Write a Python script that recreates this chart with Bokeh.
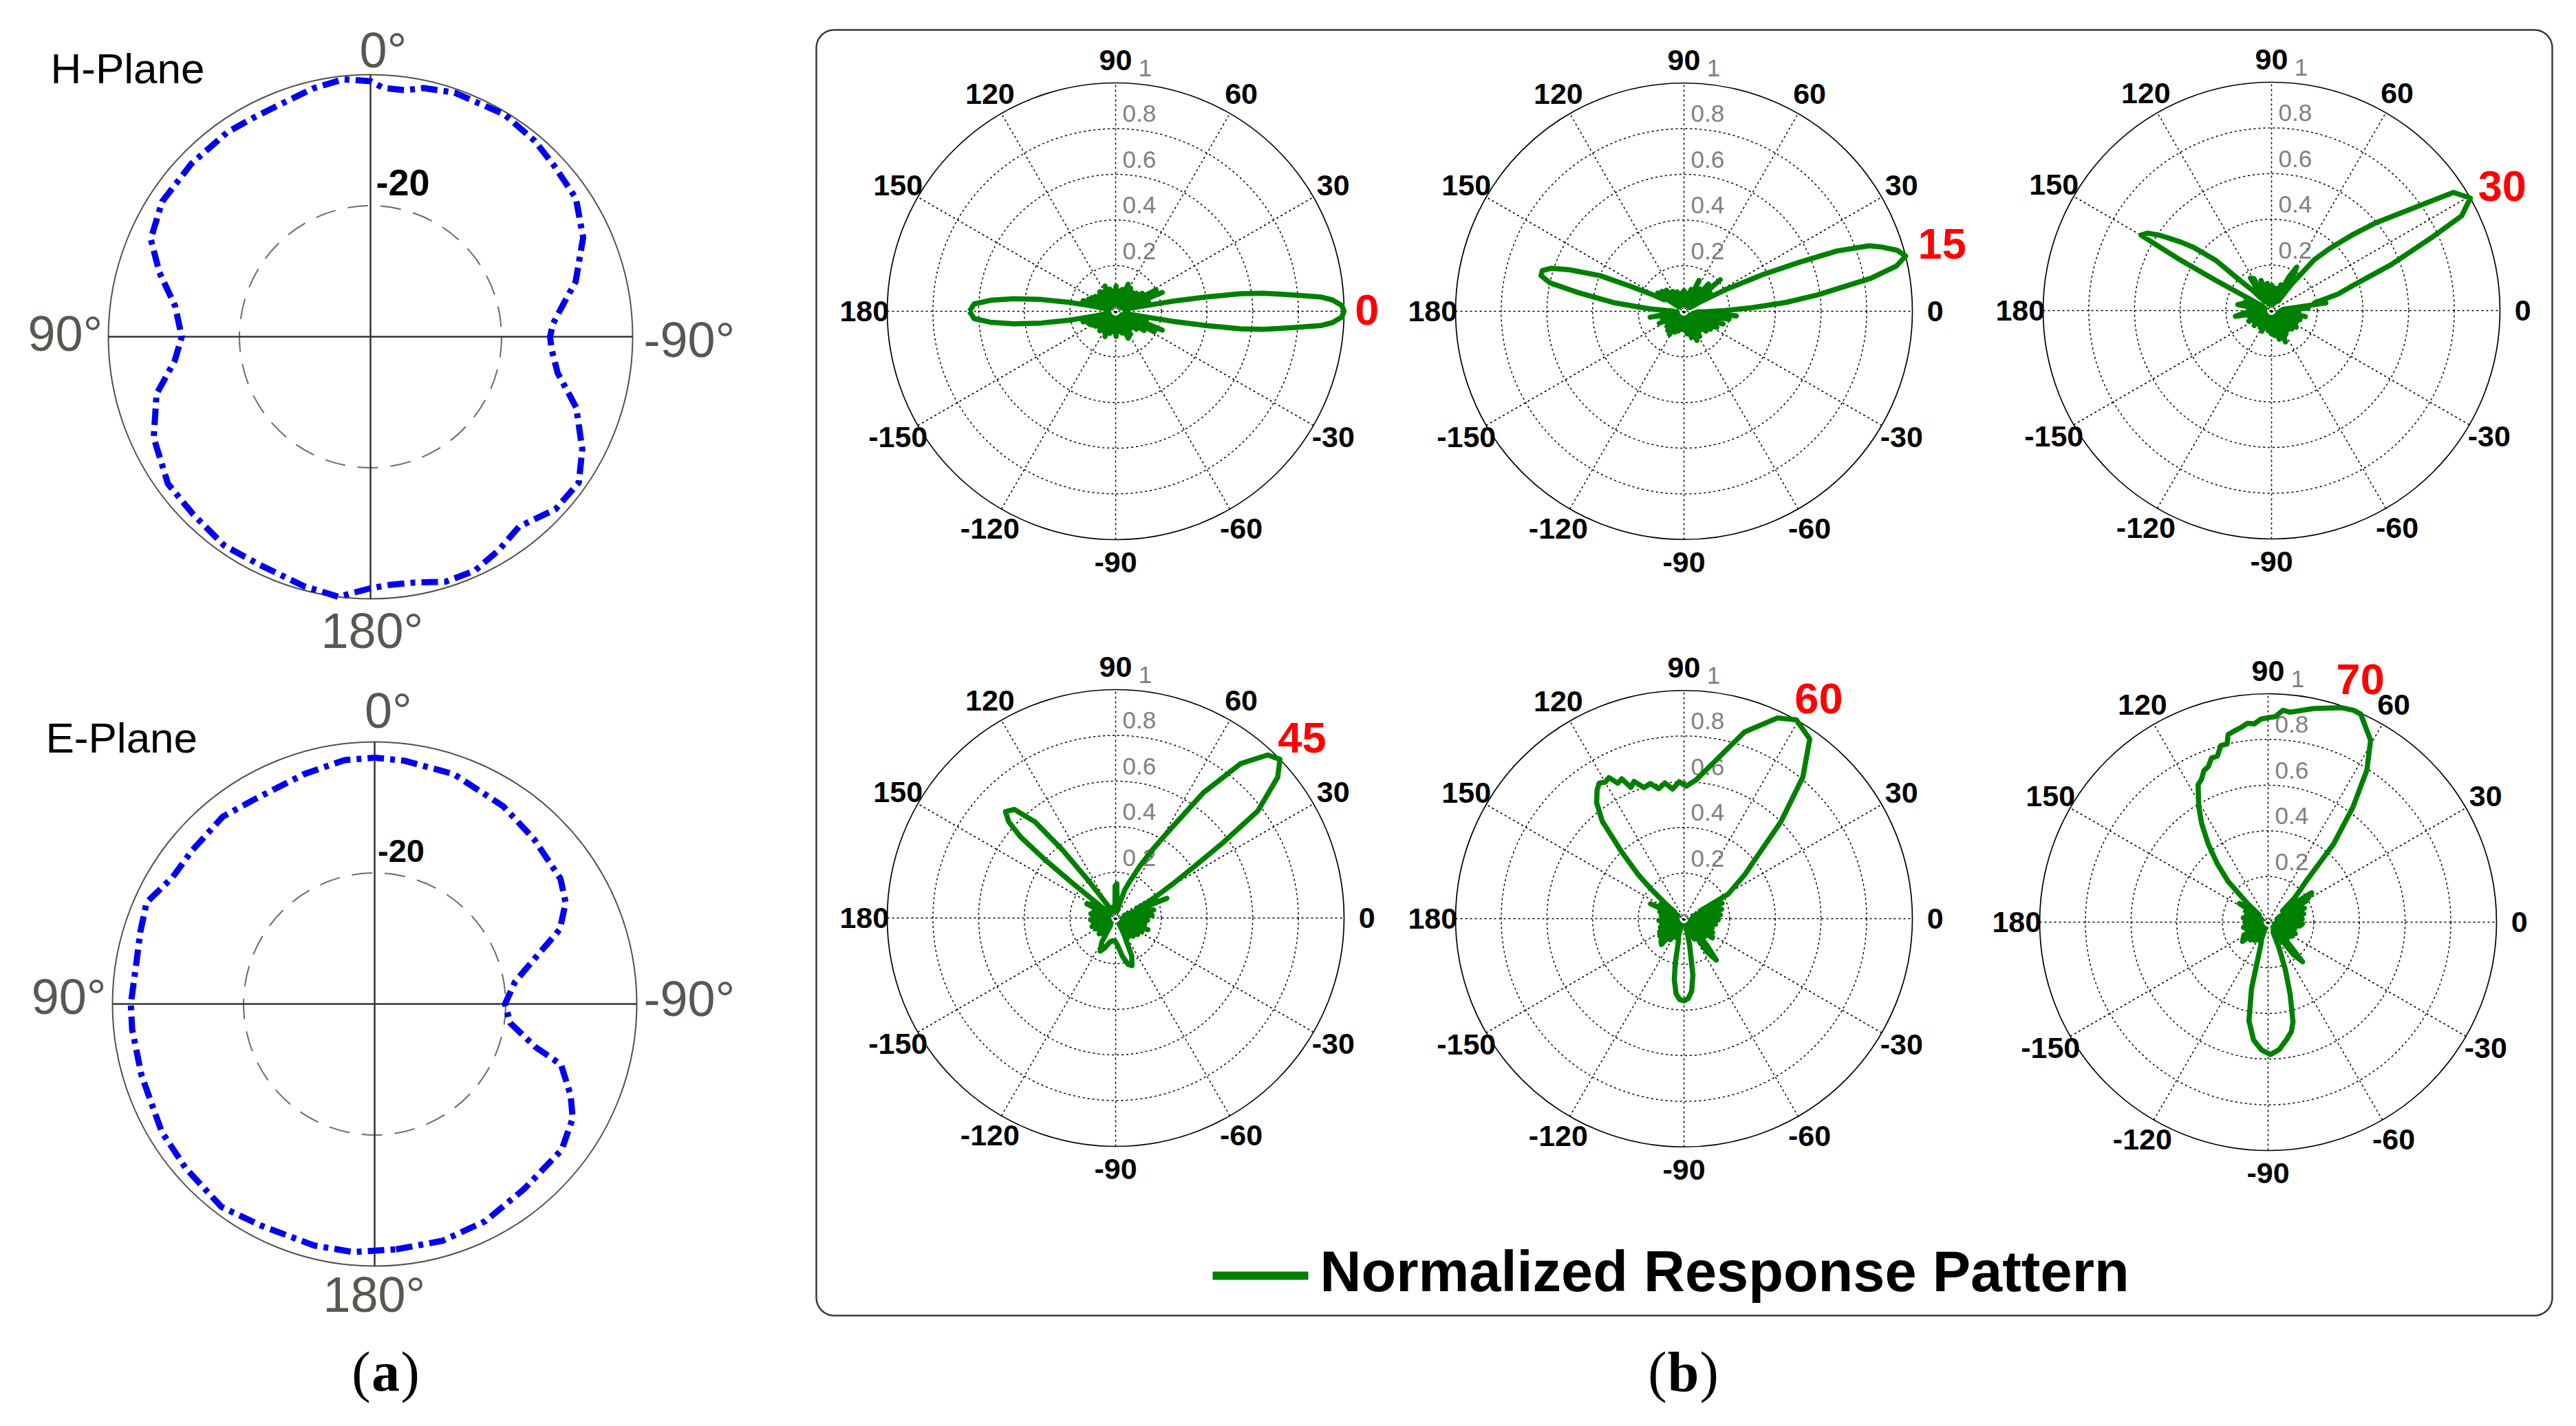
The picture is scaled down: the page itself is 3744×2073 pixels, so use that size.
import numpy as np
from bokeh.plotting import figure
from bokeh.models import Range1d
from bokeh.core.properties import value
from bokeh.embed import file_html
from bokeh.resources import INLINE

# ------------------------------------------------------------------ data
# (a) measured element patterns in dB (outer ring 0 dB, centre -40 dB)
db_min, db_max, db_ring = -40.0, 0.0, -20.0
h_plane_deg = [-176, -170, -163, -156, -149, -142, -133, -125, -118, -109,
               -101, -94, -90, -86, -80, -75, -65, -56, -47, -40,
               -31, -19, -12, -8, -3, 0, 6, 13, 22, 28,
               35, 46, 57, 66, 73, 81, 90, 97, 105, 115,
               126, 135, 145, 154, 165, 173, 176, 180]
h_plane_db = [-2.0, -1.9, -0.9, -0.9, -2.0, -3.2, -1.4, -1.2, -3.4, -6.8,
              -10.9, -12.3, -12.6, -12.1, -10.0, -7.6, -4.2, -2.2, -1.7, -1.0,
              -0.4, -0.6, -1.2, -2.0, -2.0, -1.0, -0.5, -1.1, -2.0, -2.1,
              -1.9, -2.0, -2.1, -3.3, -6.3, -9.8, -11.2, -9.9, -6.2, -3.5,
              -1.8, -1.7, -1.1, -1.3, -0.6, 0.0, -0.8, -1.6]
e_plane_deg = [-175, -164, -153, -141, -128, -120, -115, -108, -105, -98,
               -90, -81, -74, -68, -62, -56, -44, -33, -19, -7,
               0, 7, 17, 30, 39, 50, 58, 66, 73, 80,
               90, 96, 107, 121, 131, 143, 153, 166, 175]
e_plane_db = [-2.4, -2.4, -2.8, -3.7, -3.8, -5.1, -7.0, -10.1, -14.6, -19.1,
              -20.1, -18.3, -14.5, -9.5, -7.0, -5.8, -5.0, -4.0, -2.9, -2.6,
              -2.4, -2.5, -3.3, -3.8, -3.2, -3.6, -3.6, -1.9, -2.6, -3.1,
              -2.8, -2.8, -2.8, -2.1, -1.8, -1.2, -2.0, -2.0, -2.0]
plane_tick_labels = ["0°", "90°", "-90°", "180°"]

# (b) normalized response patterns (angle in deg, normalized amplitude)
steer_angles = [0, 15, 30, 45, 60, 70]
angle_ticks = [0, 30, 60, 90, 120, 150, 180, -150, -120, -90, -60, -30]
radial_ticks = [0.2, 0.4, 0.6, 0.8, 1.0]
radial_labels = ["0.2", "0.4", "0.6", "0.8", "1"]

pattern_0 = [(-180, 0.64), (-177, 0.62), (-175, 0.55), (-173, 0.45), (-171, 0.33), (-169, 0.20), (-167, 0.09),
             (-165, 0.03), (-162, 0.15), (-159, 0.03), (-156, 0.13), (-153, 0.03), (-150, 0.12), (-147, 0.03),
             (-144, 0.11), (-141, 0.03), (-137, 0.10), (-133, 0.03), (-129, 0.11), (-125, 0.03), (-121, 0.10),
             (-117, 0.03), (-113, 0.12), (-109, 0.03), (-105, 0.10), (-101, 0.03), (-97, 0.09), (-93, 0.03),
             (-89, 0.11), (-85, 0.03), (-81, 0.09), (-77, 0.03), (-73, 0.10), (-69, 0.03), (-65, 0.13),
             (-61, 0.03), (-57, 0.12), (-53, 0.03), (-49, 0.10), (-45, 0.03), (-41, 0.12), (-37, 0.03),
             (-34, 0.15), (-31, 0.03), (-28, 0.19), (-25, 0.04), (-22, 0.22), (-19, 0.05), (-16, 0.14),
             (-13, 0.04), (-11, 0.10), (-10, 0.25), (-9, 0.40), (-8, 0.55), (-7, 0.65), (-6, 0.72), (-5, 0.80),
             (-4, 0.90), (-3, 0.95), (-1.5, 0.99), (0, 1.00), (1.5, 0.99), (3, 0.95), (4, 0.90), (5, 0.80),
             (6, 0.72), (7, 0.65), (8, 0.55), (9, 0.40), (10, 0.25), (11, 0.10), (13, 0.04), (16, 0.15),
             (19, 0.05), (22, 0.22), (25, 0.04), (28, 0.20), (31, 0.03), (34, 0.14), (37, 0.03), (41, 0.12),
             (45, 0.03), (49, 0.11), (53, 0.03), (57, 0.12), (61, 0.03), (65, 0.13), (69, 0.03), (73, 0.10),
             (77, 0.03), (81, 0.09), (85, 0.03), (89, 0.11), (93, 0.03), (97, 0.09), (101, 0.03), (105, 0.10),
             (109, 0.03), (113, 0.12), (117, 0.03), (121, 0.10), (125, 0.03), (129, 0.11), (133, 0.03),
             (137, 0.10), (141, 0.03), (144, 0.11), (147, 0.03), (150, 0.12), (153, 0.03), (156, 0.13),
             (159, 0.03), (162, 0.15), (165, 0.03), (167, 0.10), (169, 0.20), (171, 0.33), (173, 0.45),
             (175, 0.55), (177, 0.62), (180, 0.64)]

pattern_15 = [(-180, 0.04), (-177, 0.09), (-174, 0.03), (-170, 0.15), (-166, 0.03), (-162, 0.10), (-158, 0.03),
              (-154, 0.12), (-150, 0.03), (-146, 0.09), (-142, 0.03), (-138, 0.10), (-134, 0.03), (-130, 0.11),
              (-126, 0.03), (-122, 0.12), (-118, 0.03), (-114, 0.10), (-110, 0.03), (-106, 0.09), (-102, 0.03),
              (-98, 0.08), (-94, 0.03), (-90, 0.08), (-86, 0.03), (-82, 0.10), (-78, 0.03), (-74, 0.12),
              (-70, 0.03), (-66, 0.14), (-62, 0.03), (-58, 0.13), (-54, 0.03), (-50, 0.11), (-46, 0.03),
              (-42, 0.13), (-38, 0.03), (-34, 0.14), (-30, 0.03), (-26, 0.16), (-22, 0.04), (-18, 0.18),
              (-14, 0.04), (-10, 0.20), (-7, 0.05), (-5, 0.23), (-3, 0.06), (-1, 0.10), (1, 0.18), (3, 0.30),
              (5, 0.45), (7, 0.59), (10, 0.83), (12, 0.95), (14, 1.00), (16, 0.97), (18, 0.91), (19.5, 0.86),
              (21.5, 0.72), (23, 0.55), (25, 0.38), (27.5, 0.20), (30, 0.08), (32, 0.03), (35, 0.14), (38, 0.03),
              (41, 0.21), (44, 0.04), (48, 0.16), (51, 0.03), (55, 0.12), (59, 0.03), (64, 0.15), (68, 0.03),
              (72, 0.10), (76, 0.03), (80, 0.08), (85, 0.03), (90, 0.09), (95, 0.03), (100, 0.08), (105, 0.03),
              (110, 0.09), (115, 0.03), (120, 0.10), (125, 0.03), (130, 0.12), (134, 0.03), (138, 0.13),
              (141, 0.03), (145, 0.14), (148, 0.10), (150, 0.10), (152, 0.15), (155, 0.26), (157, 0.40),
              (160, 0.53), (162, 0.61), (164, 0.645), (166, 0.645), (168, 0.60), (170, 0.47), (173, 0.31),
              (176, 0.15), (179, 0.05), (180, 0.04)]

pattern_30 = [(-180, 0.04), (-175, 0.12), (-171, 0.16), (-167, 0.03), (-163, 0.10), (-159, 0.03), (-155, 0.11),
              (-151, 0.03), (-147, 0.09), (-143, 0.03), (-139, 0.10), (-135, 0.03), (-131, 0.08), (-127, 0.03),
              (-123, 0.09), (-119, 0.03), (-115, 0.10), (-111, 0.03), (-107, 0.08), (-103, 0.03), (-99, 0.09),
              (-95, 0.03), (-91, 0.10), (-87, 0.03), (-83, 0.11), (-79, 0.03), (-75, 0.13), (-71, 0.03),
              (-66, 0.15), (-62, 0.03), (-58, 0.12), (-54, 0.03), (-50, 0.11), (-46, 0.03), (-42, 0.12),
              (-38, 0.03), (-34, 0.13), (-30, 0.03), (-26, 0.12), (-22, 0.03), (-18, 0.13), (-14, 0.03),
              (-10, 0.15), (-6, 0.04), (-3, 0.12), (0, 0.04), (4, 0.16), (6, 0.05), (8, 0.24), (10, 0.19),
              (14, 0.30), (17, 0.37), (21, 0.56), (24.5, 0.77), (26.5, 0.93), (29.5, 1.00), (33, 0.95),
              (36, 0.76), (40, 0.60), (43, 0.49), (47, 0.37), (50, 0.29), (53, 0.14), (55, 0.05), (57, 0.16),
              (60, 0.22), (63, 0.16), (66, 0.04), (70, 0.12), (74, 0.03), (79, 0.10), (84, 0.03), (89, 0.11),
              (94, 0.03), (99, 0.12), (104, 0.03), (109, 0.14), (114, 0.03), (119, 0.16), (123, 0.17),
              (127, 0.05), (131, 0.08), (133, 0.12), (136, 0.18), (138, 0.33), (141, 0.44), (143, 0.50),
              (146, 0.59), (148, 0.64), (150, 0.66), (151, 0.45), (151.5, 0.28), (152, 0.12), (154, 0.04),
              (158, 0.12), (162, 0.03), (166, 0.13), (170, 0.15), (174, 0.03), (177, 0.10), (180, 0.04)]

pattern_45 = [(-180, 0.04), (-176, 0.11), (-172, 0.03), (-168, 0.10), (-164, 0.03), (-160, 0.11), (-156, 0.03),
              (-152, 0.10), (-148, 0.03), (-144, 0.09), (-140, 0.03), (-136, 0.10), (-132, 0.03), (-128, 0.09),
              (-124, 0.04), (-120, 0.12), (-115, 0.16), (-110, 0.14), (-104, 0.11), (-97, 0.10), (-92, 0.10),
              (-86, 0.12), (-80, 0.17), (-75, 0.21), (-71, 0.22), (-67, 0.18), (-63, 0.08), (-59, 0.03),
              (-55, 0.10), (-51, 0.03), (-46, 0.11), (-42, 0.03), (-37, 0.12), (-33, 0.03), (-28, 0.13),
              (-24, 0.03), (-20, 0.15), (-16, 0.03), (-12, 0.13), (-8, 0.03), (-4, 0.14), (0, 0.03), (4, 0.16),
              (8, 0.04), (12, 0.17), (16, 0.04), (21, 0.24), (24, 0.10), (26, 0.15), (28, 0.20), (31, 0.30),
              (33, 0.40), (35, 0.57), (37, 0.78), (41, 0.94), (44, 1.00), (47, 0.976), (51, 0.87), (55, 0.67),
              (59, 0.43), (62, 0.33), (65, 0.25), (69, 0.17), (72, 0.13), (75, 0.06), (79, 0.03), (84, 0.06),
              (88, 0.15), (91, 0.14), (94, 0.04), (100, 0.05), (106, 0.03), (112, 0.05), (118, 0.03), (122, 0.06),
              (124, 0.10), (126, 0.20), (128, 0.38), (130, 0.55), (133, 0.65), (136, 0.67), (138, 0.63),
              (139.5, 0.55), (140.5, 0.40), (141, 0.25), (141.5, 0.12), (143, 0.05), (146, 0.03), (150, 0.12),
              (154, 0.14), (158, 0.03), (162, 0.10), (166, 0.03), (170, 0.11), (174, 0.03), (178, 0.10),
              (180, 0.04)]

pattern_60 = [(-180, 0.04), (-176, 0.11), (-172, 0.03), (-168, 0.10), (-164, 0.03), (-160, 0.11), (-156, 0.03),
              (-152, 0.12), (-148, 0.03), (-144, 0.13), (-140, 0.03), (-136, 0.14), (-131, 0.15), (-127, 0.03),
              (-123, 0.11), (-119, 0.03), (-115, 0.09), (-111, 0.03), (-107, 0.08), (-104, 0.10), (-101, 0.20),
              (-99, 0.27), (-96, 0.33), (-93, 0.355), (-90, 0.36), (-87, 0.35), (-84, 0.32), (-81, 0.25),
              (-78, 0.12), (-75, 0.04), (-71, 0.08), (-67, 0.03), (-63, 0.10), (-59, 0.04), (-55, 0.18),
              (-52, 0.23), (-49, 0.15), (-46, 0.04), (-42, 0.12), (-38, 0.03), (-34, 0.15), (-30, 0.04),
              (-26, 0.14), (-22, 0.03), (-18, 0.13), (-14, 0.03), (-10, 0.14), (-6, 0.03), (-2, 0.15), (2, 0.04),
              (6, 0.16), (10, 0.04), (14, 0.17), (18, 0.05), (22, 0.18), (26, 0.08), (29, 0.22), (31.5, 0.25),
              (36, 0.33), (40, 0.41), (45, 0.60), (50, 0.81), (55, 0.96), (60.5, 1.00), (65, 0.97), (72, 0.86),
              (79, 0.70), (85, 0.61), (89, 0.58), (92, 0.60), (95, 0.57), (98, 0.60), (101, 0.58), (104, 0.61),
              (107, 0.60), (110, 0.64), (112, 0.62), (114, 0.67), (116, 0.66), (118, 0.70), (120, 0.69),
              (122, 0.70), (124, 0.68), (127, 0.635), (130, 0.556), (133, 0.40), (136, 0.28), (138, 0.196),
              (141, 0.10), (144, 0.05), (148, 0.12), (152, 0.03), (156, 0.16), (160, 0.03), (164, 0.11),
              (168, 0.03), (172, 0.10), (176, 0.03), (180, 0.04)]

pattern_70 = [(-180, 0.04), (-176, 0.10), (-172, 0.03), (-168, 0.11), (-164, 0.03), (-160, 0.10), (-156, 0.03),
              (-152, 0.12), (-147, 0.13), (-143, 0.14), (-139, 0.03), (-135, 0.11), (-131, 0.03), (-127, 0.10),
              (-123, 0.03), (-119, 0.09), (-115, 0.03), (-111, 0.08), (-108, 0.10), (-106, 0.15), (-104, 0.30),
              (-101, 0.44), (-97, 0.52), (-93, 0.56), (-89, 0.58), (-85, 0.56), (-81, 0.52), (-78, 0.49),
              (-76, 0.45), (-73, 0.33), (-70, 0.22), (-67, 0.12), (-64, 0.05), (-60, 0.09), (-56, 0.04),
              (-52, 0.18), (-49, 0.23), (-46, 0.12), (-43, 0.03), (-39, 0.11), (-35, 0.03), (-31, 0.12),
              (-27, 0.03), (-23, 0.13), (-19, 0.03), (-15, 0.12), (-11, 0.03), (-7, 0.14), (-3, 0.15), (1, 0.04),
              (5, 0.15), (9, 0.04), (13, 0.16), (17, 0.04), (21, 0.17), (25, 0.05), (29, 0.19), (34, 0.23),
              (38, 0.08), (42, 0.15), (45, 0.20), (47, 0.24), (50, 0.445), (53.6, 0.626), (57, 0.794),
              (60.6, 0.914), (66, 0.997), (68, 1.00), (71, 0.993), (78, 0.956), (84, 0.924), (86, 0.93),
              (88, 0.90), (90, 0.895), (92, 0.89), (94, 0.87), (96, 0.875), (98, 0.86), (100, 0.85), (102, 0.84),
              (103, 0.80), (105, 0.80), (107, 0.76), (109, 0.76), (111, 0.73), (113, 0.72), (115, 0.69),
              (117, 0.675), (121, 0.59), (124, 0.52), (127.5, 0.43), (131, 0.34), (134.5, 0.25), (138, 0.12),
              (141, 0.05), (144, 0.10), (147, 0.15), (150, 0.04), (154, 0.11), (158, 0.03), (162, 0.10),
              (166, 0.03), (170, 0.11), (174, 0.03), (178, 0.10), (180, 0.04)]

patterns = [pattern_0, pattern_15, pattern_30, pattern_45, pattern_60, pattern_70]

# ------------------------------------------------------------------ layout
W, H = 3728, 2057           # page coordinates of the reference are used directly
FONT = value("Liberation Sans")
SERIF = value("Liberation Serif")
GREEN = "#008000"
BLUE = "#0000ee"
LABEL_GRAY = "#5a5650"

p = figure(width=W, height=H, x_range=Range1d(0, W), y_range=Range1d(H, 0),
           output_backend="svg", toolbar_location=None, x_axis_location=None,
           y_axis_location=None, min_border=0)
p.grid.visible = False
p.outline_line_color = None
p.background_fill_color = "white"
p.border_fill_color = "white"

xr, yr = {}, {}


def sub_ranges(name, cx, cy, k):
    x0 = -cx / k
    y0 = -(H - cy) / k
    xr[name] = Range1d(x0, x0 + W / k)
    yr[name] = Range1d(y0, y0 + H / k)


plane_layout = {
    "h": dict(c=(538, 489), R=381, title="H-Plane", title_xy=(73, 99), ring_xy=(0.021, 0.589), ring_fs="54px",
              lab_xy=[(-0.042, 1.094), (-1.307, 0.012), (1.042, -0.011), (-0.189, -1.123)]),
    "e": dict(c=(544, 1459), R=381, title="E-Plane", title_xy=(66, 1072), ring_xy=(0.012, 0.585), ring_fs="47px",
              lab_xy=[(-0.038, 1.12), (-1.309, 0.028), (1.026, 0.019), (-0.197, -1.108)]),
}
sub_centers = [(1621, 452), (2447, 452), (3301, 451), (1621, 1334), (2447, 1335), (3296, 1340)]
SUB_R = 332
steer_label_xy = [(1.10, 0.006), (1.13, 0.295), (1.01, 0.545), (0.816, 0.789), (0.59, 0.964), (0.404, 1.063)]
radial_label_x = [0.03, 0.03, 0.03, 0.03, 0.10]

for key, lay in plane_layout.items():
    sub_ranges("pl_" + key, lay["c"][0], lay["c"][1], lay["R"])
for i, c in enumerate(sub_centers):
    sub_ranges("sp%d" % i, c[0], c[1], SUB_R)
p.extra_x_ranges = xr
p.extra_y_ranges = yr

# ------------------------------------------------------------------ panel (a)
for key, deg, db in (("h", h_plane_deg, h_plane_db), ("e", e_plane_deg, e_plane_db)):
    lay = plane_layout[key]
    kw = dict(x_range_name="pl_" + key, y_range_name="pl_" + key)
    p.circle(x=[0], y=[0], radius=[1.0], fill_color=None, line_color="#505050", line_width=2, **kw)
    rr = (db_ring - db_min) / (db_max - db_min)
    p.circle(x=[0], y=[0], radius=[rr], fill_color=None, line_color="#6a6a6a", line_width=2,
             line_dash="30 18", **kw)
    p.segment(x0=[-1, 0], y0=[0, -1], x1=[1, 0], y1=[0, 1], line_color="#333333", line_width=2.5, **kw)
    r = (np.array(db) - db_min) / (db_max - db_min)
    th = np.radians(deg)
    x = np.append(-r * np.sin(th), -r[0] * np.sin(th[0]))
    y = np.append(r * np.cos(th), r[0] * np.cos(th[0]))
    p.line(x, y, line_color=BLUE, line_width=9, line_dash="24 9 7 9", line_join="round", **kw)
    p.text(x=[a for a, b in lay["lab_xy"]], y=[b for a, b in lay["lab_xy"]], text=plane_tick_labels,
           text_font=FONT, text_font_size=value("72px"), text_color=LABEL_GRAY,
           text_align="left", text_baseline="middle", **kw)
    p.text(x=[lay["ring_xy"][0]], y=[lay["ring_xy"][1]], text=["%d" % db_ring], text_font=FONT,
           text_font_size=value(lay["ring_fs"]), text_font_style="bold", text_color="black",
           text_align="left", text_baseline="middle", **kw)
    p.text(x=[lay["title_xy"][0]], y=[lay["title_xy"][1]], text=[lay["title"]], text_font=FONT,
           text_font_size=value("62px"), text_color="black", text_align="left", text_baseline="middle")

# ------------------------------------------------------------------ panel (b) frame
bl, br, bt, bb, brad = 1186, 3709, 43, 1912, 26
arc = np.linspace(0, 0.5 * np.pi, 16)
fx, fy = [], []
for (ccx, ccy, a0) in ((bl + brad, bt + brad, np.pi), (br - brad, bt + brad, 1.5 * np.pi),
                       (br - brad, bb - brad, 0.0), (bl + brad, bb - brad, 0.5 * np.pi)):
    fx.extend(ccx + brad * np.cos(a0 + arc))
    fy.extend(ccy + brad * np.sin(a0 + arc))
fx.append(fx[0])
fy.append(fy[0])
p.line(fx, fy, line_color="#3a3a3a", line_width=2.5)

# ------------------------------------------------------------------ polar sub-plots
spoke = np.radians([t for t in angle_ticks if 0 <= t < 180])
for i, (pat, steer) in enumerate(zip(patterns, steer_angles)):
    kw = dict(x_range_name="sp%d" % i, y_range_name="sp%d" % i)
    rings = radial_ticks[:-1]
    p.circle(x=[0] * len(rings), y=[0] * len(rings), radius=rings, fill_color=None, line_color="black",
             line_width=1.5, line_dash="3 4", **kw)
    p.circle(x=[0], y=[0], radius=[radial_ticks[-1]], fill_color=None, line_color="black", line_width=1.7, **kw)
    p.segment(x0=-np.cos(spoke), y0=-np.sin(spoke), x1=np.cos(spoke), y1=np.sin(spoke),
              line_color="black", line_width=1.5, line_dash="3 4", **kw)
    p.text(x=radial_label_x, y=[t + 0.065 for t in radial_ticks], text=radial_labels, text_font=FONT,
           text_font_size=value("35px"), text_color="#808080", text_align="left", text_baseline="middle", **kw)
    # the red steering label takes the place of a coinciding angle tick label
    ticks = [t for t in angle_ticks if t != steer]
    ta = np.radians(ticks)
    p.text(x=1.1 * np.cos(ta), y=1.1 * np.sin(ta), text=[str(t) for t in ticks], text_font=FONT,
           text_font_size=value("43px"), text_font_style="bold", text_color="black",
           text_align="center", text_baseline="middle", **kw)
    th = np.radians([d for d, _ in pat])
    rv = np.array([v for _, v in pat])
    p.line(rv * np.cos(th), rv * np.sin(th), line_color=GREEN, line_width=7.5, line_join="round", **kw)
    p.text(x=[steer_label_xy[i][0]], y=[steer_label_xy[i][1]], text=[str(steer)], text_font=FONT,
           text_font_size=value("63px"), text_font_style="bold", text_color="#ff0000",
           text_align="center", text_baseline="middle", **kw)

# ------------------------------------------------------------------ legend
p.line(x=[1762, 1901], y=[1854, 1854], line_color=GREEN, line_width=12)
p.text(x=[1918], y=[1848], text=["Normalized Response Pattern"], text_font=FONT,
       text_font_size=value("83px"), text_font_style="bold", text_color="black",
       text_align="left", text_baseline="middle")

# ------------------------------------------------------------------ panel labels
for letter, cx in (("a", 560), ("b", 2446)):
    half = 21 if letter == "a" else 23
    p.text(x=[cx - half - 1], y=[1994], text=["("], text_font=SERIF, text_font_size=value("82px"),
           text_color="black", text_align="right", text_baseline="middle")
    p.text(x=[cx], y=[1994], text=[letter], text_font=SERIF, text_font_size=value("82px"),
           text_font_style="bold", text_color="black", text_align="center", text_baseline="middle")
    p.text(x=[cx + half + 1], y=[1994], text=[")"], text_font=SERIF, text_font_size=value("82px"),
           text_color="black", text_align="left", text_baseline="middle")

open("out.html", "w").write(file_html(p, INLINE))
